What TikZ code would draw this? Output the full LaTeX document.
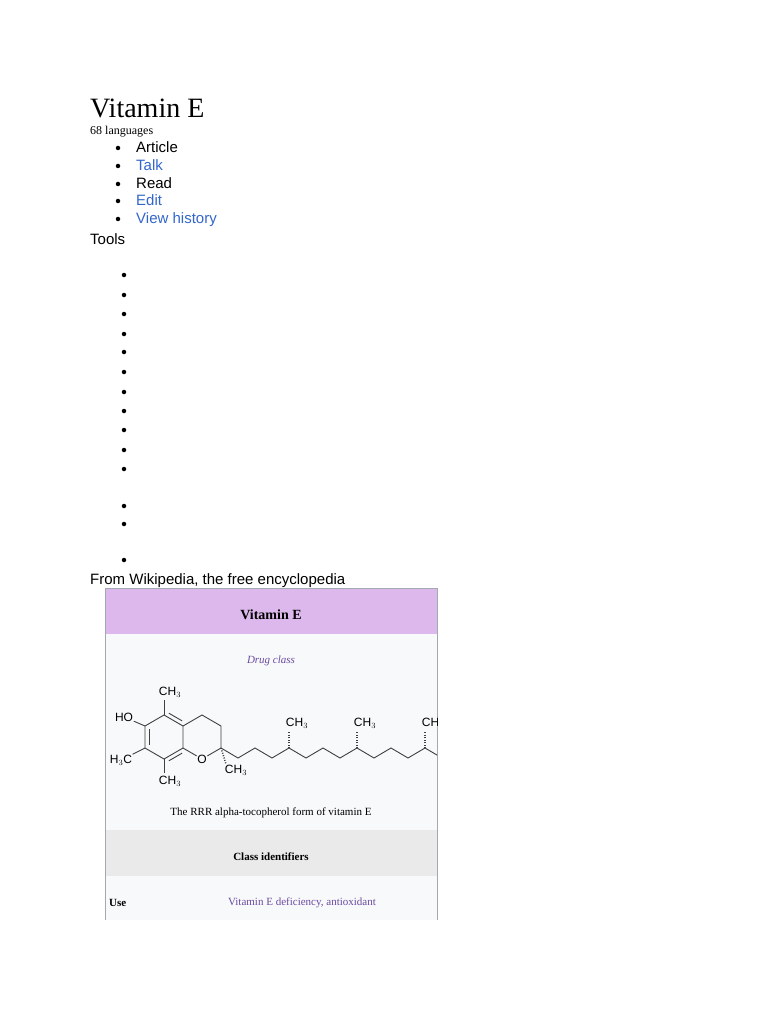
\documentclass[tikz,border=0pt]{standalone}
\usepackage{fontspec}
\setmainfont{Liberation Serif}
\setsansfont{Liberation Sans}
\usetikzlibrary{calc}
\begin{document}
\begin{tikzpicture}[x=1pt,y=-1pt,
  txt/.style={anchor=base west,inner sep=0pt,font=\sffamily\fontsize{15}{17}\selectfont},
  link/.style={txt,text=linkblue},
  bul/.style={circle,fill=black,inner sep=0pt,minimum size=4.5pt},
  atom/.style={inner sep=0.5pt,font=\sffamily\fontsize{12}{13}\selectfont,fill=boxbg},
  bond/.style={line width=0.9pt,black!75}]
\definecolor{linkblue}{HTML}{3366CC}
\definecolor{boxbg}{HTML}{F8F9FA}
\definecolor{hdr}{HTML}{DDB8EC}
\definecolor{cls}{HTML}{EAEAEA}
\definecolor{brd}{HTML}{A2A9B1}
\definecolor{purp}{HTML}{6B4BA1}
\useasboundingbox (0,0) rectangle (768,1024);
\fill[white] (0,0) rectangle (768,1024);
\node[anchor=base west,inner sep=0pt,font=\fontsize{28}{30}\selectfont] (title) at (90,118) {Vitamin E};
\node[anchor=base west,inner sep=0pt,font=\fontsize{12}{14}\selectfont] (lang) at (90,135) {68 languages};
\foreach \y/\t/\s in {153/Article/txt,171/Talk/link,189/Read/txt,206/Edit/link,224/View history/link}{
  \node[bul] at (118,\y-5) {};
  \node[\s] at (136,\y) {\t};}
\node[txt] (tools) at (90,244) {Tools};
\foreach \y in {275,295,314,334,352,372,392,411,430,450,469,506,524,560}{\node[bul] at (124,\y) {};}
\node[txt] (from) at (90,584) {From Wikipedia, the free encyclopedia};
% infobox
\fill[boxbg] (105.5,588.5) rectangle (437.5,920);
\fill[hdr] (105.5,588.5) rectangle (437.5,634);
\fill[cls] (105.5,830) rectangle (437.5,876);
\draw[brd] (105.5,920) -- (105.5,588.5) -- (437.5,588.5) -- (437.5,920);
\node[font=\bfseries\fontsize{14}{16}\selectfont] (ibt) at (271,615) {Vitamin E};
\node[font=\itshape\fontsize{11}{13}\selectfont,text=purp] (dc) at (271,661) {Drug class};
\node[font=\fontsize{11}{13}\selectfont] (cap) at (271,813) {The RRR alpha-tocopherol form of vitamin E};
\node[font=\bfseries\fontsize{11}{13}\selectfont] (ci) at (271,857) {Class identifiers};
\node[anchor=west,inner sep=0pt,font=\bfseries\fontsize{11}{13}\selectfont] (use) at (109,903) {Use};
\node[font=\fontsize{11}{13}\selectfont,text=purp] (usev) at (302,903) {Vitamin E deficiency, antioxidant};
% molecule
\begin{scope}
\clip (106,680) rectangle (437,800);
\coordinate (a1) at (164,715); \coordinate (a2) at (183,726); \coordinate (a3) at (183,748);
\coordinate (a4) at (164,759); \coordinate (a5) at (145,748); \coordinate (a6) at (145,726);
\coordinate (b1) at (202,715); \coordinate (b2) at (221,726); \coordinate (c2) at (221,748);
\draw[bond] (a1)--(a2)--(a3)--(a4)--(a5)--(a6)--cycle;
\draw[bond] (a2)--(b1)--(b2)--(c2);
\draw[bond] ($(a6)!0.15!(a5)+(4,0)$) -- ($(a6)!0.85!(a5)+(4,0)$);
\draw[bond] ($(a1)!0.15!(a2)!4pt!90:(a2)$) -- ($(a2)!0.15!(a1)!4pt!-90:(a1)$);
\draw[bond] ($(a3)!0.15!(a4)!4pt!90:(a4)$) -- ($(a4)!0.15!(a3)!4pt!-90:(a3)$);
\node[atom] (O) at (202,759) {O};
\draw[bond] (a3)--(O)--(c2);
\node[atom] (me1) at (170,692) {CH$_3$};
\draw[bond] (a1)--(164,700);
\node[atom] (ho) at (124,717) {HO};
\draw[bond] (a6)--(ho);
\node[atom] (h3c) at (121,760) {H$_3$C};
\draw[bond] (a5)--(h3c);
\node[atom] (me2) at (170,781) {CH$_3$};
\draw[bond] (a4)--(164,773);
\node[atom] (me3) at (236,770) {CH$_3$};
\draw[bond,dash pattern=on 1pt off 1.5pt,line width=1.5pt] (c2)--(226,764);
\draw[bond] (c2)--(238,758)--(255,748)--(272,758)--(289,748)--(306,758)--(323,748)--(340,758)--(357,748)--(374,758)--(391,748)--(408,758)--(425,748)--(442,758);
\foreach \x in {289,357,425}{
  \node[atom] at (\x+8,723) {CH$_3$};
  \draw[bond,dash pattern=on 1pt off 1.5pt,line width=1.5pt] (\x,748)--(\x,731);}
\end{scope}
\end{tikzpicture}
\end{document}
